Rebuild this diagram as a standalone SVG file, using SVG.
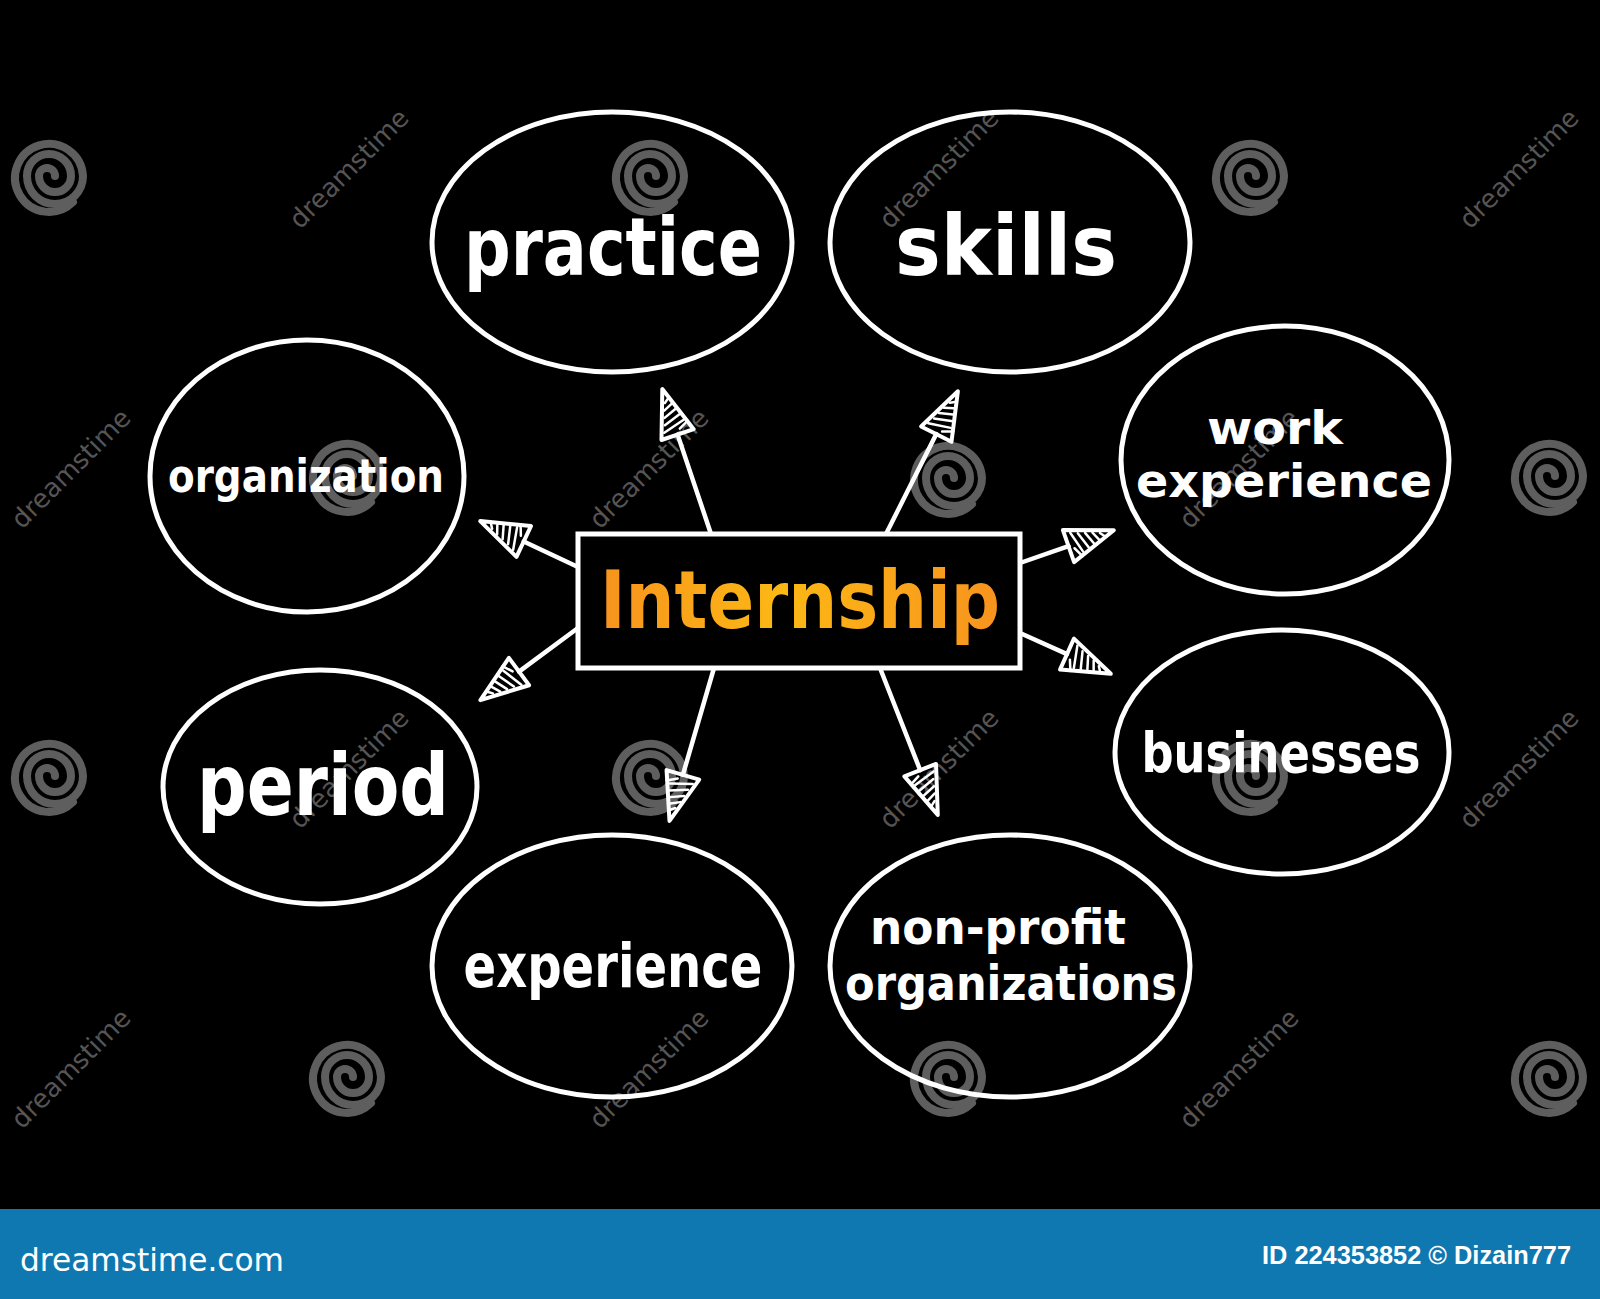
<svg xmlns="http://www.w3.org/2000/svg" width="1600" height="1299" viewBox="0 0 1600 1299">
<defs>
<style>
.bg{fill:#000}
.node ellipse{fill:none;stroke:#fff;stroke-width:5}
.lbl{fill:#fff;font-family:"DejaVu Sans","Liberation Sans",sans-serif;font-weight:bold;text-anchor:middle}
.conn line{stroke:#fff;stroke-width:4.5;stroke-linecap:round}
.wm{fill:none;stroke:#5e5e5e;stroke-width:8;stroke-linecap:round}
.wmt{fill:#555;font-family:"DejaVu Sans","Liberation Sans",sans-serif;font-size:26px}
</style>
<linearGradient id="og" x1="0" y1="0" x2="1" y2="0">
<stop offset="0" stop-color="#f7931e"/>
<stop offset="0.45" stop-color="#fcb814"/>
<stop offset="0.8" stop-color="#f9a11b"/>
<stop offset="1" stop-color="#f7931e"/>
</linearGradient>
<marker id="ah" markerUnits="userSpaceOnUse" markerWidth="60" markerHeight="60" refX="0" refY="0" orient="auto" style="overflow:visible">
<path d="M48,0 L0,-17 L0,17 Z" fill="none" stroke="#fff" stroke-width="4" stroke-linejoin="round"/>
<path d="M6,-12 L12,10 M13,-9 L19,9 M20,-7 L25,6 M27,-5 L31,4 M34,-2 L37,2 M5,4 L10,14" fill="none" stroke="#fff" stroke-width="2.5" stroke-linecap="round"/>
</marker>
<g id="spiral">
<path class="wm" d="M24,26 A34,34 0 1,1 34,0 A28,28 0 0,1 -22,0 A22,22 0 0,1 22,0 A16,16 0 0,1 -10,0 A8,8 0 0,1 6,0"/>
</g>
</defs>
<rect class="bg" x="0" y="0" width="1600" height="1299"/>
<g id="watermark">
<use href="#spiral" x="49" y="176"/>
<use href="#spiral" x="650" y="176"/>
<use href="#spiral" x="1250" y="176"/>
<use href="#spiral" x="347" y="476"/>
<use href="#spiral" x="948" y="478"/>
<use href="#spiral" x="1549" y="476"/>
<use href="#spiral" x="49" y="776"/>
<use href="#spiral" x="650" y="776"/>
<use href="#spiral" x="1250" y="776"/>
<use href="#spiral" x="347" y="1077"/>
<use href="#spiral" x="948" y="1077"/>
<use href="#spiral" x="1549" y="1077"/>
<text class="wmt" transform="translate(300,230) rotate(-45)">dreamstime</text>
<text class="wmt" transform="translate(890,230) rotate(-45)">dreamstime</text>
<text class="wmt" transform="translate(1470,230) rotate(-45)">dreamstime</text>
<text class="wmt" transform="translate(22,530) rotate(-45)">dreamstime</text>
<text class="wmt" transform="translate(600,530) rotate(-45)">dreamstime</text>
<text class="wmt" transform="translate(1190,530) rotate(-45)">dreamstime</text>
<text class="wmt" transform="translate(300,830) rotate(-45)">dreamstime</text>
<text class="wmt" transform="translate(890,830) rotate(-45)">dreamstime</text>
<text class="wmt" transform="translate(1470,830) rotate(-45)">dreamstime</text>
<text class="wmt" transform="translate(22,1130) rotate(-45)">dreamstime</text>
<text class="wmt" transform="translate(600,1130) rotate(-45)">dreamstime</text>
<text class="wmt" transform="translate(1190,1130) rotate(-45)">dreamstime</text>
</g>
<g id="connectors" class="conn">
<line x1="711" y1="534" x2="677.6" y2="434.6" marker-end="url(#ah)"/>
<line x1="886" y1="534" x2="936.3" y2="434.1" marker-end="url(#ah)"/>
<line x1="578" y1="567" x2="523.7" y2="541.5" marker-end="url(#ah)"/>
<line x1="578" y1="628" x2="519" y2="671.6" marker-end="url(#ah)"/>
<line x1="1020" y1="563" x2="1068.5" y2="546.1" marker-end="url(#ah)"/>
<line x1="1020" y1="633" x2="1067" y2="654.1" marker-end="url(#ah)"/>
<line x1="714" y1="668" x2="682.9" y2="774.8" marker-end="url(#ah)"/>
<line x1="880" y1="668" x2="920.2" y2="770.2" marker-end="url(#ah)"/>
</g>
<g id="center">
<rect x="578" y="534" width="442" height="134" fill="#000" stroke="#fff" stroke-width="5"/>
<text x="800" y="628" font-family="DejaVu Sans,Liberation Sans,sans-serif" font-weight="bold" font-size="80" fill="url(#og)" text-anchor="middle" textLength="400" lengthAdjust="spacingAndGlyphs">Internship</text>
</g>
<g id="n-practice" class="node">
<ellipse cx="612" cy="242" rx="180" ry="130"/>
<text class="lbl" x="613" y="275" font-size="80" textLength="298" lengthAdjust="spacingAndGlyphs">practice</text>
</g>
<g id="n-skills" class="node">
<ellipse cx="1010" cy="242" rx="180" ry="130"/>
<text class="lbl" x="1006" y="275" font-size="84" textLength="222" lengthAdjust="spacingAndGlyphs">skills</text>
</g>
<g id="n-organization" class="node">
<ellipse cx="307" cy="476" rx="157" ry="136"/>
<text class="lbl" x="306" y="492" font-size="46" textLength="276" lengthAdjust="spacingAndGlyphs">organization</text>
</g>
<g id="n-work" class="node">
<ellipse cx="1285" cy="460" rx="164" ry="134"/>
<text class="lbl" x="1275" y="444" font-size="46" textLength="136" lengthAdjust="spacingAndGlyphs">work</text>
<text class="lbl" x="1284" y="497" font-size="46" textLength="296" lengthAdjust="spacingAndGlyphs">experience</text>
</g>
<g id="n-period" class="node">
<ellipse cx="320" cy="787" rx="157" ry="117"/>
<text class="lbl" x="323" y="815" font-size="86" textLength="252" lengthAdjust="spacingAndGlyphs">period</text>
</g>
<g id="n-businesses" class="node">
<ellipse cx="1282" cy="752" rx="167" ry="122"/>
<text class="lbl" x="1281" y="772" font-size="56" textLength="279" lengthAdjust="spacingAndGlyphs">businesses</text>
</g>
<g id="n-experience" class="node">
<ellipse cx="612" cy="966" rx="180" ry="131"/>
<text class="lbl" x="613" y="987" font-size="60" textLength="299" lengthAdjust="spacingAndGlyphs">experience</text>
</g>
<g id="n-nonprofit" class="node">
<ellipse cx="1010" cy="966" rx="180" ry="131"/>
<text class="lbl" x="998" y="944" font-size="48" textLength="256" lengthAdjust="spacingAndGlyphs">non-profit</text>
<text class="lbl" x="1011" y="1000" font-size="48" textLength="332" lengthAdjust="spacingAndGlyphs">organizations</text>
</g>
<g id="footer">
<rect x="0" y="1209" width="1600" height="90" fill="#0f78b0"/>
<text x="20" y="1271" font-family="DejaVu Sans,Liberation Sans,sans-serif" font-size="32" fill="#fff" textLength="264" lengthAdjust="spacingAndGlyphs">dreamstime.com</text>
<text x="1571" y="1264" font-family="Liberation Sans,Arial,sans-serif" font-weight="bold" font-size="25" fill="#fff" text-anchor="end" textLength="309" lengthAdjust="spacingAndGlyphs">ID 224353852 © Dizain777</text>
</g>
</svg>
